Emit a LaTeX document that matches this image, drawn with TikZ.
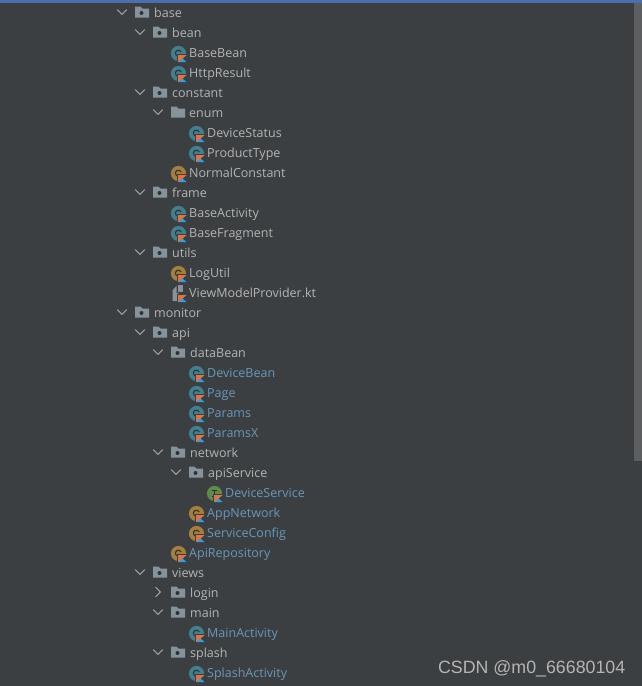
\documentclass[tikz,border=0pt]{standalone}
\usepackage{fontspec}
\setmainfont{Open Sans}
\newfontfamily\wmfont{Liberation Sans}
\definecolor{bgc}{HTML}{3C3F41}
\definecolor{topbar}{HTML}{4B6EAF}
\definecolor{scrollc}{HTML}{5C5E60}
\definecolor{txt}{HTML}{B4B4B4}
\definecolor{bluetxt}{HTML}{6897BB}
\definecolor{chev}{HTML}{9DA0A2}
\definecolor{foldc}{HTML}{87939A}
\definecolor{dotc}{HTML}{2F3234}
\definecolor{classc}{HTML}{40808F}
\definecolor{objc}{HTML}{A5803C}
\definecolor{ifacec}{HTML}{5E8A4A}
\definecolor{kor}{HTML}{E8703A}
\definecolor{kbl}{HTML}{2E9FEA}
\definecolor{filec}{HTML}{87939A}
\tikzset{
  x=1pt,y=-1pt,
  lbl/.style={anchor=base west,inner sep=0pt,font=\fontsize{12.5}{14}\selectfont},
  chevline/.style={draw=chev,line width=1.1pt,line cap=round,line join=round},
}
\newcommand{\chevd}[2]{\draw[chevline] (#1-4.5,#2-2.2) -- (#1,#2+2.4) -- (#1+4.5,#2-2.2);}
\newcommand{\chevr}[2]{\draw[chevline] (#1-2.2,#2-4.5) -- (#1+2.4,#2) -- (#1-2.2,#2+4.5);}
\newcommand{\foldshape}[2]{\fill[foldc] (#1-7,#2-5.5) -- (#1-1.5,#2-5.5) -- (#1+0.5,#2-3.5) -- (#1+7,#2-3.5) -- (#1+7,#2+5.5) -- (#1-7,#2+5.5) -- cycle;}
\newcommand{\folddot}[2]{\foldshape{#1}{#2}\fill[dotc] (#1-0.5,#2+1) circle (2);}
\newcommand{\kbadge}[2]{%
  \fill[bgc] (#1-0.8,#2+0.5) rectangle (#1+9,#2+9);
  \fill[kbl] (#1+0.2,#2+2) -- (#1+8.5,#2+2) -- (#1+4.5,#2+5.5) -- (#1+8.5,#2+9) -- (#1+0.2,#2+9) -- cycle;
  \fill[kor] (#1+0.2,#2+2) -- (#1+8.5,#2+2) -- (#1+0.2,#2+9) -- cycle;}
\newcommand{\clsicon}[3]{%
  \fill[#3] (#1+0.5,#2+1.5) circle (7.6);
  \draw[dotc,line width=1.1pt] (#1+2.3,#2+3.4) arc (50:340:3);
  \kbadge{#1}{#2+1}}
\newcommand{\ifaceicon}[2]{%
  \fill[ifacec] (#1+0.5,#2+1.5) circle (7.6);
  \draw[dotc,line width=1.1pt] (#1-2,#2-1.5) -- (#1+3,#2-1.5) (#1+0.5,#2-1.5) -- (#1+0.5,#2+4.5) (#1-2,#2+4.5) -- (#1+3,#2+4.5);
  \kbadge{#1}{#2+1}}
\newcommand{\fileicon}[2]{%
  \fill[filec] (#1-0.5,#2-7) -- (#1+4.5,#2-7) -- (#1+4.5,#2+0) -- (#1-0.5,#2+0) -- cycle;
  \fill[filec] (#1-1.5,#2-6) -- (#1-1.5,#2+1) -- (#1+0.5,#2+1) -- (#1+0.5,#2+9) -- (#1-5.5,#2+9) -- (#1-5.5,#2-2) -- cycle;
  \kbadge{#1}{#2+1}}
\newcommand{\rowtext}[5]{\pgfmathsetmacro{\yb}{#3+5.4}\node[lbl,text=#5] (#1) at (#2,\yb) {#4};}
\newcommand{\frow}[5]{%
  \pgfmathsetmacro{\xa}{122+18*#2}\pgfmathsetmacro{\ya}{12+20*#3}%
  \pgfmathsetmacro{\xb}{142+18*#2}\pgfmathsetmacro{\xc}{154+18*#2}%
  \csname chev#5\endcsname{\xa}{\ya}%
  \folddot{\xb}{\ya}%
  \rowtext{#1}{\xc}{\ya}{#4}{txt}}
\newcommand{\lrow}[6]{%
  \pgfmathsetmacro{\xb}{142+18*#2}\pgfmathsetmacro{\xc}{153+18*#2}\pgfmathsetmacro{\ya}{12+20*#3}%
  \clsicon{\xb}{\ya}{#5}%
  \rowtext{#1}{\xc}{\ya}{#4}{#6}}
\begin{document}
\begin{tikzpicture}
\useasboundingbox (0,0) rectangle (642,686);
\fill[bgc] (0,0) rectangle (642,686);
\fill[topbar] (0,0) rectangle (642,3);
\fill[scrollc] (634,3) rectangle (642,461);
\frow{base}{0}{0}{base}{d}
\frow{bean}{1}{1}{bean}{d}
\lrow{BaseBean}{2}{2}{BaseBean}{classc}{txt}
\lrow{HttpResult}{2}{3}{HttpResult}{classc}{txt}
\frow{constant}{1}{4}{constant}{d}
\chevd{158}{112}\foldshape{178}{112}\rowtext{enum}{189}{112}{enum}{txt}
\lrow{DeviceStatus}{3}{6}{DeviceStatus}{classc}{txt}
\lrow{ProductType}{3}{7}{ProductType}{classc}{txt}
\lrow{NormalConstant}{2}{8}{NormalConstant}{objc}{txt}
\frow{frame}{1}{9}{frame}{d}
\lrow{BaseActivity}{2}{10}{BaseActivity}{classc}{txt}
\lrow{BaseFragment}{2}{11}{BaseFragment}{classc}{txt}
\frow{utils}{1}{12}{utils}{d}
\lrow{LogUtil}{2}{13}{LogUtil}{objc}{txt}
\fileicon{178}{292}\rowtext{ViewModelProvider}{189}{292}{ViewModelProvider.kt}{txt}
\frow{monitor}{0}{15}{monitor}{d}
\frow{api}{1}{16}{api}{d}
\frow{dataBean}{2}{17}{dataBean}{d}
\lrow{DeviceBean}{3}{18}{DeviceBean}{classc}{bluetxt}
\lrow{Page}{3}{19}{Page}{classc}{bluetxt}
\lrow{Params}{3}{20}{Params}{classc}{bluetxt}
\lrow{ParamsX}{3}{21}{ParamsX}{classc}{bluetxt}
\frow{network}{2}{22}{network}{d}
\frow{apiService}{3}{23}{apiService}{d}
\ifaceicon{214}{492}\rowtext{DeviceService}{225}{492}{DeviceService}{bluetxt}
\lrow{AppNetwork}{3}{25}{AppNetwork}{objc}{bluetxt}
\lrow{ServiceConfig}{3}{26}{ServiceConfig}{objc}{bluetxt}
\lrow{ApiRepository}{2}{27}{ApiRepository}{objc}{bluetxt}
\frow{views}{1}{28}{views}{d}
\frow{login}{2}{29}{login}{r}
\frow{main}{2}{30}{main}{d}
\lrow{MainActivity}{3}{31}{MainActivity}{classc}{bluetxt}
\frow{splash}{2}{32}{splash}{d}
\lrow{SplashActivity}{3}{33}{SplashActivity}{classc}{bluetxt}
\node[anchor=base east,inner sep=0pt,text=txt,font=\wmfont\fontsize{17.8}{20}\selectfont] (wm) at (625.5,673) {CSDN @m0\_66680104};
\end{tikzpicture}
\end{document}
